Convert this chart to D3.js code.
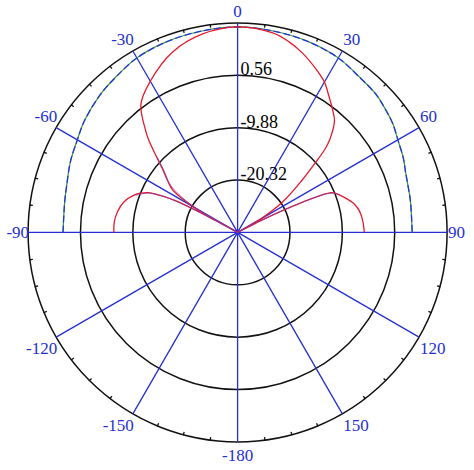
<!DOCTYPE html>
<html>
<head>
<meta charset="utf-8">
<script src="https://cdn.jsdelivr.net/npm/d3@7"></script>
<style>
  body { margin: 0; background: #fff; }
  svg { display: block; }
</style>
</head>
<body>
<svg id="chart" width="474" height="470"></svg>
<script>
// radial scale (dB)
const dbMin = -30.76;
const dbMax = 11.0;
const ringValues = [-20.32, -9.88, 0.56, 11.0];
const ringLabels = ["-20.32", "-9.88", "0.56"];

// angular grid
const spokeAngles = [0, 30, 60, 90, 120, 150, 180, 210, 240, 270, 300, 330];
const spokeLabels = ["0", "30", "60", "90", "120", "150", "-180", "-150", "-120", "-90", "-60", "-30"];

// red trace
const redAngles = [-90, -85, -80, -75, -70, -68, -66, -64.5, -63, -62, -61.5, -61, -60, -57, -54, -50, -47, -44, -42, -37, -30, -20, -10,
  0, 10, 15, 20, 26, 30, 34, 38, 41, 45, 46.5, 48, 51, 56, 60, 61.5, 63, 64, 65, 66, 67, 68, 72, 76, 80, 85, 90];
const redValues = [-6.10, -6.10, -6.50, -7.29, -8.89, -9.88, -11.27, -13.66, -16.84, -22.81, -30.76, -24.79, -20.62, -15.45, -13.66, -11.27, -8.69, -5.31, -3.32, 1.26, 4.04, 7.42, 9.41,
  10.21, 9.61, 8.61, 7.22, 5.23, 3.84, 1.85, 0.06, -1.33, -4.91, -6.90, -9.68, -14.25, -20.02, -25.79, -30.76, -25.79, -20.82, -16.44, -12.46, -10.48, -9.88, -8.29, -6.90, -6.10, -5.70, -5.51];

// purple trace (only visible near the nulls)
const purpleAngles = [-70, -66, -64, -62, -61.5, -61, -59, -55, -50, -47, 0, 61.5, 63, 64.5, 66, 67, 68.5, 70];
const purpleValues = [-9.1, -11.5, -14.5, -22.0, -30.76, -26.0, -19.5, -14.5, -11.6, -8.9, null, -30.76, -25.0, -19.0, -12.8, -10.8, -9.6, -9.0];

// green / blue dashed traces
const outerAngles = [-90, -80, -75, -67, -60, -54, -45, -38, -30, -20, -10, 0, 10, 20, 30, 38, 45, 50, 55, 60, 66, 70, 75, 80, 90];
const greenValues = [4.04, 4.24, 4.54, 5.43, 6.13, 7.02, 8.02, 8.61, 9.41, 9.81, 10.01, 10.21, 10.01, 9.81, 9.41, 8.61, 8.22, 7.62, 7.02, 6.13, 5.43, 4.84, 4.44, 4.24, 4.04];
const blueValues = [4.04, 4.24, 4.54, 5.43, 6.13, 7.00, 8.00, 8.58, 9.38, 9.79, 10.00, 10.19, 10.00, 9.79, 9.38, 8.58, 8.20, 7.60, 7.00, 6.13, 5.43, 4.84, 4.44, 4.24, 4.04];

const cx = 237.6;
const cy = 232.4;
const R = 209.5;
const gridBlue = "#2430d2";

const svg = d3.select("#chart");
const rScale = d3.scaleLinear().domain([dbMin, dbMax]).range([0, R]);
const rad = a => a * Math.PI / 180;

const g = svg.append("g").attr("transform", `translate(${cx},${cy})`);

// rings
g.selectAll("circle.ring")
  .data(ringValues)
  .enter()
  .append("circle")
  .attr("class", "ring")
  .attr("r", d => rScale(d))
  .attr("fill", "none")
  .attr("stroke", "#111")
  .attr("stroke-width", 1.5);

// spokes
g.selectAll("line.spoke")
  .data(spokeAngles)
  .enter()
  .append("line")
  .attr("x1", 0).attr("y1", 0)
  .attr("x2", d => R * Math.sin(rad(d)))
  .attr("y2", d => -R * Math.cos(rad(d)))
  .attr("stroke", gridBlue)
  .attr("stroke-width", 1.3);

// small ticks on the outer circle every 7.5 deg
const tickAngles = d3.range(0, 360, 7.5).filter(a => a % 30 !== 0);
g.selectAll("line.tick")
  .data(tickAngles)
  .enter()
  .append("line")
  .attr("x1", d => (R - 3) * Math.sin(rad(d)))
  .attr("y1", d => -(R - 3) * Math.cos(rad(d)))
  .attr("x2", d => (R + 0.5) * Math.sin(rad(d)))
  .attr("y2", d => -(R + 0.5) * Math.cos(rad(d)))
  .attr("stroke", "#111")
  .attr("stroke-width", 1.3);

// traces
const radial = d3.lineRadial()
  .angle(d => rad(d.a))
  .radius(d => rScale(Math.max(d.v, dbMin)))
  .defined(d => d.v != null)
  .curve(d3.curveCatmullRom.alpha(0.5));

const toPts = (angles, values) => angles.map((a, i) => ({ a, v: values[i] }));

g.append("path")
  .attr("d", radial(toPts(outerAngles, greenValues)))
  .attr("fill", "none")
  .attr("stroke", "#3a9a3a")
  .attr("stroke-width", 1.2);

g.append("path")
  .attr("d", radial(toPts(outerAngles, blueValues)))
  .attr("fill", "none")
  .attr("stroke", "#2236d8")
  .attr("stroke-width", 1.3)
  .attr("stroke-dasharray", "7,3");

g.append("path")
  .attr("d", radial(toPts(redAngles, redValues)))
  .attr("fill", "none")
  .attr("stroke", "#e8192c")
  .attr("stroke-width", 1.3);

g.append("path")
  .attr("d", radial(toPts(purpleAngles, purpleValues)))
  .attr("fill", "none")
  .attr("stroke", "#8a3aa8")
  .attr("stroke-opacity", 0.8)
  .attr("stroke-width", 1);

// ring labels
g.selectAll("text.ringlabel")
  .data(ringLabels)
  .enter()
  .append("text")
  .attr("x", 3)
  .attr("y", (d, i) => -rScale(ringValues[i]))
  .text(d => d)
  .style("font-family", "'Liberation Serif', 'DejaVu Serif', serif")
  .style("font-size", "18px")
  .style("fill", "#000");

// angle labels
g.selectAll("text.anglabel")
  .data(spokeAngles)
  .enter()
  .append("text")
  .attr("x", d => {
    const s = Math.sin(rad(d));
    return R * s + (Math.abs(s) < 0.1 ? 0 : 1);
  })
  .attr("y", d => {
    const c = Math.cos(rad(d));
    const y = -R * c;
    if (c > 0.99) return y - 6;
    if (c < -0.99) return y + 19;
    if (c > 0.1) return y - 6;
    if (c < -0.1) return y + 17;
    return y + 6;
  })
  .attr("text-anchor", d => {
    const s = Math.sin(rad(d));
    if (Math.abs(s) < 0.1) return "middle";
    return s > 0 ? "start" : "end";
  })
  .text((d, i) => spokeLabels[i])
  .style("font-family", "'Liberation Serif', 'DejaVu Serif', serif")
  .style("font-size", "17px")
  .style("fill", gridBlue);
</script>
</body>
</html>
